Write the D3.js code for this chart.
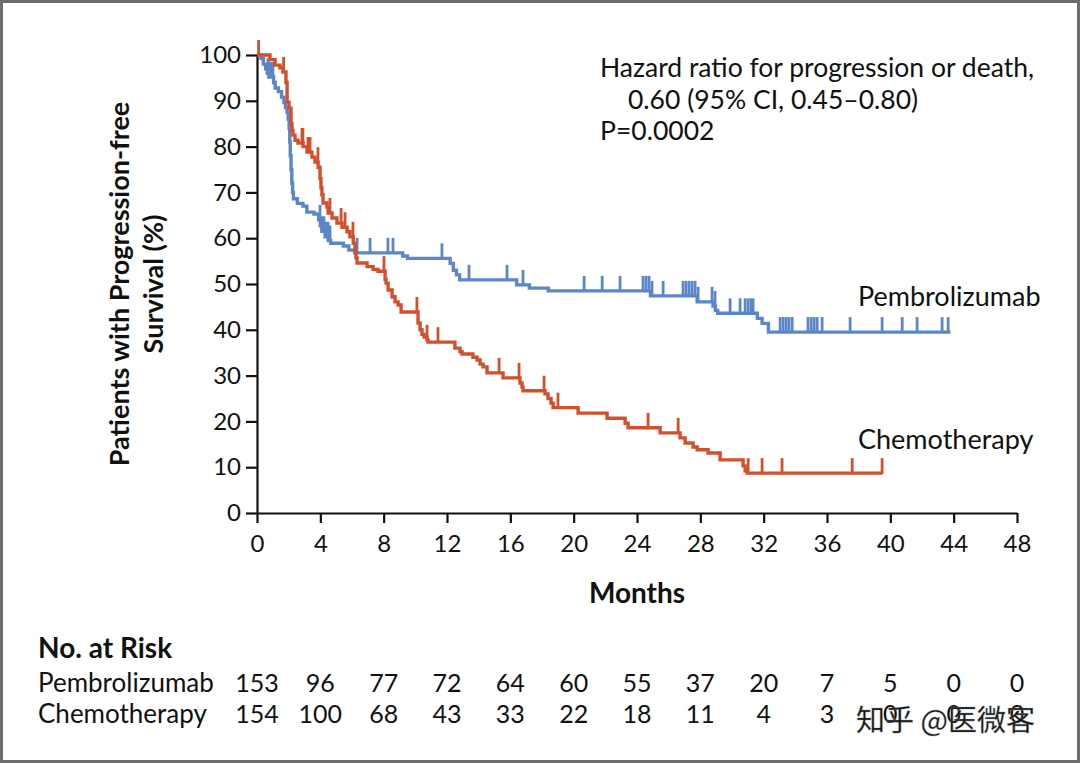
<!DOCTYPE html>
<html>
<head>
<meta charset="utf-8">
<script src="https://cdn.jsdelivr.net/npm/d3@7"></script>
<style>
  html, body { margin: 0; padding: 0; background: #fff; }
  svg { display: block; }
  text { font-family: Lato, "Open Sans", sans-serif; fill: #111; }
</style>
</head>
<body>
<svg id="chart" width="1080" height="763"></svg>
<script>
// step points (months, % progression-free)
const pembroTimes = [0, 0.25, 0.4, 0.55, 0.65, 0.75, 1.05, 1.15, 1.35, 1.55, 1.7, 1.8, 1.9, 1.97, 2.03, 2.07, 2.1, 2.15, 2.2, 2.25,
  2.3, 2.55, 2.9, 3.15, 3.6, 3.9, 4.0, 4.1, 4.3, 4.5, 4.65, 5.45, 5.8, 6.2, 9.2, 9.5, 12.2, 12.4, 12.6, 12.8,
  16.4, 17.2, 18.4, 24.85, 27.8, 28.8, 28.95, 29.1, 31.6, 31.9, 32.3];
const pembroSurv = [100, 99.3, 98, 97, 96, 95.2, 94, 92.8, 92, 90.8, 89.6, 88.5, 87.5, 86, 84, 81, 78, 75, 72, 70,
  68.6, 67.6, 67, 65.7, 65.3, 64, 62.7, 61.5, 60.3, 59.5, 58.9, 58.3, 57.4, 56.8, 56.1, 55.6, 54.5, 53, 52, 50.9,
  49.8, 49.1, 48.5, 47.4, 46.1, 45.2, 44.2, 43.6, 42.5, 41.4, 39.5];
const pembroCensor = [0.69, 0.82, 0.95, 1.01, 3.98, 4.1, 4.23, 4.36, 4.49, 4.61, 6.32, 7.14, 8.27, 8.59, 11.68, 13.39,
  15.79, 16.8, 20.66, 21.8, 22.93, 24.38, 24.57, 24.76, 24.95, 25.65, 26.91, 27.1, 27.29, 27.48, 27.67, 27.86,
  28.74, 28.93, 29.88, 30.51, 30.83, 31.02, 31.2, 31.33, 33.04, 33.23, 33.42, 33.6, 33.8, 34.8, 35.0, 35.19,
  35.38, 35.69, 37.46, 39.48, 40.75, 41.69, 43.27, 43.65];
const pembroEnd = 43.8;

const chemoTimes = [0, 0.82, 1.14, 1.45, 1.64, 1.83, 1.9, 2.02, 2.15, 2.21, 2.27, 2.4, 2.59, 2.91, 3.16, 3.47, 3.66, 3.86,
  3.98, 4.04, 4.1, 4.17, 4.42, 4.49, 4.74, 5.05, 5.37, 5.69, 5.87, 6.08, 6.19, 6.25, 6.32, 6.95, 7.33, 7.64, 8.09,
  8.15, 8.28, 8.53, 8.72, 8.91, 9.1, 10.17, 10.3, 10.42, 10.55, 10.74, 10.8, 12.5, 12.82, 12.95, 13.64, 13.9,
  14.09, 14.28, 14.53, 15.54, 16.61, 16.74, 16.8, 18.19, 18.38, 18.57, 18.7, 20.28, 22.11, 23.25, 23.44, 25.46,
  26.72, 27.04, 27.54, 27.8, 28.49, 29.25, 30.7, 30.83, 30.95];
const chemoSurv = [100, 99, 97.8, 97.2, 96.3, 94, 89.7, 88.4, 85, 83.5, 82.5, 81.4, 80.8, 80, 78.8, 77.7, 76.6, 75.5,
  73, 71, 69.5, 67.7, 66.8, 65.5, 64.4, 63.3, 62.4, 61.4, 60.3, 58.9, 56.8, 55.7, 54.6, 53.8, 53.2, 52.8, 51,
  50.2, 48.7, 47.2, 46.1, 45.4, 43.9, 41.5, 40, 39, 38.4, 37.8, 37.3, 36, 35.2, 34.7, 34, 33.4,
  32.5, 31.9, 30.6, 29.5, 28.4, 27.5, 26.7, 26, 25, 24, 23, 21.8, 20.7, 19.6, 18.6, 17.5,
  16.4, 15.3, 14.4, 13.8, 13.1, 11.6, 10.3, 9.2, 8.7];
const chemoCensor = [0.1, 1.68, 2.84, 2.9, 3.22, 3.35, 3.85, 4.61, 5.31, 5.56, 6.06, 8.02, 10.1, 10.74, 11.43, 15.29,
  16.55, 18.13, 19.01, 24.7, 26.6, 31.02, 31.9, 33.16, 37.59, 39.48];
const chemoEnd = 39.48;

const xTicks = d3.range(0, 49, 4);
const yTicks = d3.range(0, 101, 10);
const riskMonths = d3.range(0, 49, 4);
const pembroRisk = [153, 96, 77, 72, 64, 60, 55, 37, 20, 7, 5, 0, 0];
const chemoRisk = [154, 100, 68, 43, 33, 22, 18, 11, 4, 3, 0, 0, 0];

const blue = '#5b86c7';
const red = '#d2502b';

const svg = d3.select('#chart');

// photo frame
svg.append('rect')
  .attr('x', 1.5).attr('y', 1.5)
  .attr('width', 1077).attr('height', 760)
  .attr('fill', 'none').attr('stroke', '#6d6d6d').attr('stroke-width', 3);

const x = d3.scaleLinear().domain([0, 48]).range([257, 1017]);
const y = d3.scaleLinear().domain([0, 100]).range([513, 55]);

const xAxis = svg.append('g')
  .attr('transform', `translate(0, ${y(0)})`)
  .call(d3.axisBottom(x).tickValues(xTicks).tickSize(10).tickPadding(12).tickSizeOuter(0));
const yAxis = svg.append('g')
  .attr('transform', `translate(${x(0)}, 0)`)
  .call(d3.axisLeft(y).tickValues(yTicks).tickSize(11).tickPadding(5).tickSizeOuter(0));

[xAxis, yAxis].forEach(g => {
  g.select('.domain').attr('stroke', '#111').attr('stroke-width', 2.2);
  g.selectAll('.tick line').attr('stroke', '#111').attr('stroke-width', 2.2);
  g.selectAll('.tick text')
    .attr('fill', '#111')
    .style('font-family', 'Lato, sans-serif')
    .style('font-size', '24px');
});

svg.append('text')
  .attr('x', 637).attr('y', 603)
  .attr('text-anchor', 'middle')
  .style('font-weight', 'bold').style('font-size', '28px')
  .text('Months');

const yLabel = svg.append('text')
  .attr('transform', 'translate(129, 284) rotate(-90)')
  .attr('text-anchor', 'middle')
  .style('font-weight', 'bold').style('font-size', '27px');
yLabel.append('tspan').attr('x', 0).attr('dy', 0).text('Patients with Progression-free');
yLabel.append('tspan').attr('x', 0).attr('dy', 34).text('Survival (%)');

const makeSteps = (times, surv, end) => {
  const pts = times.map((t, i) => [t, surv[i]]);
  pts.push([end, surv[surv.length - 1]]);
  return pts;
};
const valueAt = (times, surv, t) => surv[d3.bisectRight(times, t) - 1];

const line = d3.line()
  .x(d => x(d[0]))
  .y(d => y(d[1]))
  .curve(d3.curveStepAfter);

const series = [
  { times: pembroTimes, surv: pembroSurv, censor: pembroCensor, end: pembroEnd, color: blue },
  { times: chemoTimes, surv: chemoSurv, censor: chemoCensor, end: chemoEnd, color: red }
];

series.forEach(s => {
  svg.append('path')
    .datum(makeSteps(s.times, s.surv, s.end))
    .attr('d', line)
    .attr('fill', 'none')
    .attr('stroke', s.color)
    .attr('stroke-width', 3.4);

  svg.append('g').selectAll('line')
    .data(s.censor)
    .enter()
    .append('line')
    .attr('x1', d => x(d)).attr('x2', d => x(d))
    .attr('y1', d => y(valueAt(s.times, s.surv, d)) + 1)
    .attr('y2', d => y(valueAt(s.times, s.surv, d)) - 15)
    .attr('stroke', s.color)
    .attr('stroke-width', 2.8);
});

// annotations
const note = svg.append('g').style('font-size', '26.5px');
note.append('text').attr('x', 600).attr('y', 77).text('Hazard ratio for progression or death,');
note.append('text').attr('x', 628).attr('y', 109).text('0.60 (95% CI, 0.45\u20130.80)');
note.append('text').attr('x', 600).attr('y', 140).text('P=0.0002');

svg.append('text').attr('x', 858).attr('y', 306).style('font-size', '27px').text('Pembrolizumab');
svg.append('text').attr('x', 858).attr('y', 449).style('font-size', '27px').text('Chemotherapy');

// number at risk table
svg.append('text')
  .attr('x', 38).attr('y', 658)
  .style('font-weight', 'bold').style('font-size', '28px')
  .text('No. at Risk');

const riskRows = [
  { label: 'Pembrolizumab', values: pembroRisk, y: 692 },
  { label: 'Chemotherapy', values: chemoRisk, y: 723 }
];

riskRows.forEach(r => {
  svg.append('text')
    .attr('x', 38).attr('y', r.y)
    .style('font-size', '26px')
    .text(r.label);
  svg.append('g').selectAll('text')
    .data(r.values)
    .enter()
    .append('text')
    .attr('x', (d, i) => x(riskMonths[i]))
    .attr('y', r.y)
    .attr('text-anchor', 'middle')
    .style('font-size', '25px')
    .text(d => d);
});

// watermark
svg.append('text')
  .attr('x', 856).attr('y', 731)
  .style('font-family', '"Noto Sans CJK SC", sans-serif')
  .style('font-size', '29px')
  .attr('fill', 'rgba(215,215,215,0.7)')
  .attr('stroke', 'rgba(160,160,160,0.45)')
  .attr('stroke-width', 0.8)
  .text('知乎 @医微客');
</script>
</body>
</html>
